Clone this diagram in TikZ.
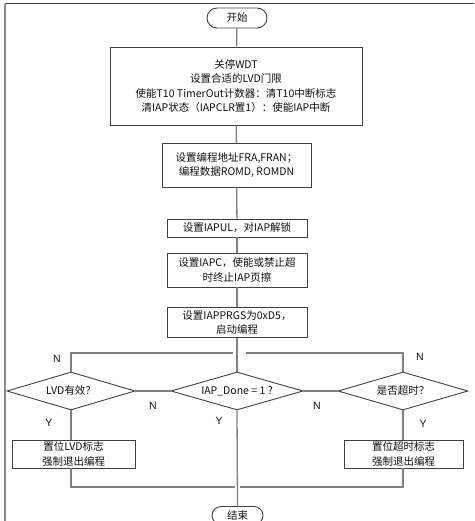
\documentclass[tikz,border=0pt]{standalone}
\usepackage{fontspec}
\setmainfont{Noto Sans CJK SC}
\newfontfamily\latinf{Liberation Sans}
\usetikzlibrary{shapes.geometric,shapes.misc}
\definecolor{boxline}{HTML}{404040}
\definecolor{conn}{HTML}{808080}
\definecolor{txt}{HTML}{101010}
\tikzset{
  base/.style={draw=boxline, line width=0.9pt, text=txt, font=\fontsize{10.5}{14.5}\selectfont, align=center, inner sep=0pt},
  procbox/.style={base, rectangle},
  termbox/.style={base, rounded rectangle},
  decbox/.style={base, diamond, aspect=3.4, minimum height=38pt},
  conn/.style={draw=conn, line width=1.3pt},
  lbl/.style={text=txt, font=\latinf\fontsize{10.5}{12}\selectfont, inner sep=0pt},
}
\begin{document}
\begin{tikzpicture}[x=1pt,y=-1pt]
\useasboundingbox (0,0) rectangle (474,521);
% frame
\draw[draw=black!75, line width=1pt] (5,4) -- (474,4);
\draw[draw=black!45, line width=1.6pt] (5,4) -- (5,521);
% nodes
\node[termbox, minimum width=60pt, minimum height=20pt] (start) at (237,18) {开始};
\node[procbox, minimum width=252pt, minimum height=78pt] (b1) at (236,86) {关停WDT\\设置合适的LVD门限\\使能T10 TimerOut计数器：清T10中断标志\\清IAP状态（IAPCLR置1）：使能IAP中断};
\node[procbox, minimum width=149pt, minimum height=44pt] (b2) at (236.5,165) {设置编程地址FRA,FRAN；\\编程数据ROMD, ROMDN};
\node[procbox, minimum width=140pt, minimum height=18pt] (b3) at (237,228) {设置IAPUL，对IAP解锁};
\node[procbox, minimum width=140pt, minimum height=34pt] (b4) at (237,270) {设置IAPC，使能或禁止超\\时终止IAP页擦};
\node[procbox, minimum width=140pt, minimum height=30pt] (b5) at (237,322.5) {设置IAPPRGS为0xD5，\\启动编程};
\node[decbox, minimum width=128pt] (d1) at (71,391) {LVD有效？};
\node[decbox, minimum width=132pt] (d2) at (237,391) {IAP\_Done = 1 ?};
\node[decbox, minimum width=130pt] (d3) at (403,391) {是否超时？};
\node[procbox, minimum width=123pt, minimum height=28pt] (b6) at (73.5,454) {置位LVD标志\\强制退出编程};
\node[procbox, minimum width=119pt, minimum height=28pt] (b7) at (403.5,454) {置位超时标志\\强制退出编程};
\node[termbox, minimum width=51pt, minimum height=18pt] (end) at (237.5,515.5) {结束};
% junction coordinates
\coordinate (jl) at (233,353);
\coordinate (jr) at (246,353);
\coordinate (jbl) at (235,487);
\coordinate (jbr) at (240,487);
% connectors
\draw[conn] (start) -- (b1);
\draw[conn] (b1) -- (b2);
\draw[conn] (b2) -- (b3);
\draw[conn] (b3) -- (b4);
\draw[conn] (b4) -- (b5);
\draw[conn] (b5) -- (d2);
\draw[conn] (d1.north) |- (jl);
\draw[conn] (d3.north) |- (jr);
\draw[conn] (d1.east) -- (d2.west);
\draw[conn] (d2.east) -- (d3.west);
\draw[conn] (d1.south) -- (d1.south |- b6.north);
\draw[conn] (d3.south) -- (d3.south |- b7.north);
\draw[conn] (d1.south |- b6.south) |- (jbl);
\draw[conn] (d3.south |- b7.south) |- (jbr);
\draw[conn] (d2.south) -- (end.north);
% labels
\node[lbl] (n1) at (57,359) {N};
\node[lbl] (n2) at (420,357) {N};
\node[lbl] (n3) at (153,406) {N};
\node[lbl] (n4) at (317,406) {N};
\node[lbl] (y1) at (49,423) {Y};
\node[lbl] (y2) at (219,421) {Y};
\node[lbl] (y3) at (423,424) {Y};
\end{tikzpicture}
\end{document}
